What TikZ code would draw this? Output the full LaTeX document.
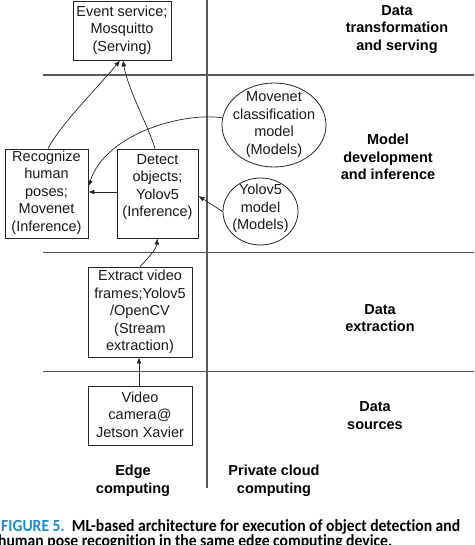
\documentclass[tikz,border=0pt]{standalone}
\usepackage{fontspec}
\setmainfont{Liberation Sans}
\newfontfamily\capfont[Ligatures={NoCommon}]{Carlito}
\usetikzlibrary{arrows.meta,shapes.geometric}
\definecolor{figblue}{RGB}{30,140,205}
\begin{document}
\begin{tikzpicture}[x=1pt,y=-1pt,
  box/.style={draw=black!85,line width=0.9pt,rectangle,inner sep=0pt},
  ell/.style={draw=black!85,line width=0.8pt,ellipse,inner sep=0pt},
  txt/.style={align=center,font=\fontsize{14.5}{17.5}\selectfont,inner sep=0pt,text=black!90},
  lab/.style={align=center,font=\fontsize{14.5}{17.5}\selectfont\bfseries,inner sep=0pt},
  grid/.style={draw=black!65,line width=1.1pt},
  arr/.style={draw=black!85,line width=0.7pt,-{Latex[length=6pt,width=5pt]}},
  captext/.style={anchor=base west,inner sep=0pt,font={\fontsize{17}{17}\capfont\bfseries}}]
\useasboundingbox (0,0) rectangle (474,545);
% grid
\draw[grid] (43,75) -- (474,75);
\draw[grid] (43,252.5) -- (474,252.5);
\draw[grid] (43,371.5) -- (474,371.5);
\draw[grid] (207,0) -- (207,488);
% boxes
\node[box,minimum width=98,minimum height=59] (ev) at (122,30.5) {};
\node[txt] (evt) at (122,30) {Event service;\\Mosquitto\\(Serving)};
\node[box,minimum width=83,minimum height=89] (rec) at (46.5,193.5) {};
\node[txt] (rect) at (46.5,192.7) {Recognize\\human\\poses;\\Movenet\\(Inference)};
\node[box,minimum width=81,minimum height=89] (det) at (157.5,193.5) {};
\node[txt] (dett) at (157.5,187) {Detect\\objects;\\Yolov5\\(Inference)};
\node[box,minimum width=104,minimum height=90] (ext) at (140,312) {};
\node[txt] (extt) at (140,312) {Extract video\\frames;Yolov5\\/OpenCV\\(Stream\\extraction)};
\node[box,minimum width=104,minimum height=59] (vid) at (140,415.5) {};
\node[txt] (vidt) at (140,414.5) {Video\\camera@\\Jetson Xavier};
% ellipses
\node[ell,minimum width=104,minimum height=84] (mov) at (274,125) {};
\node[txt] (movt) at (274,124.5) {Movenet\\classification\\model\\(Models)};
\node[ell,minimum width=75,minimum height=67] (yol) at (260.5,211.5) {};
\node[txt] (yolt) at (260.5,208.5) {Yolov5\\model\\(Models)};
% row/column labels
\node[lab] (l1) at (397,29.5) {Data\\transformation\\and serving};
\node[lab] (l2) at (388,157) {Model\\development\\and inference};
\node[lab] (l3) at (380,318) {Data\\extraction};
\node[lab] (l4) at (375,415.5) {Data\\sources};
\node[lab] (l5) at (133,481) {Edge\\computing};
\node[lab] (l6) at (274,481) {Private cloud\\computing};
% connectors
\draw[arr] ([xshift=-1pt]vid.north) -- ([xshift=-1pt]ext.south);
\draw[arr] (ext.north) .. controls (148,258) and (156,250) .. (det.south);
\draw[arr] ([yshift=1.5pt]det.west) -- ([yshift=1.5pt]rec.east);
\draw[arr] (yol.west) -- ([yshift=-2.5pt]det.east);
\draw[arr] (mov.172) .. controls (180,112) and (105,135) .. ([yshift=7pt]rec.east);
\draw[arr] ([xshift=1.5pt]rec.north) .. controls (60,125) and (100,85) .. ([xshift=-2pt]ev.south);
\draw[arr] ([xshift=-2.5pt]det.north) .. controls (148,125) and (128,90) .. ([xshift=1pt]ev.south);
% caption
\node[captext] (c1) at (1,531.7) {\scalebox{0.92}[1]{\textcolor{figblue}{FIGURE 5.}\hspace{0.45em}ML-based architecture for execution of object detection and}};
\node[captext] (c2) at (-2,546.5) {\scalebox{0.92}[1]{human pose recognition in the same edge computing device.}};
\end{tikzpicture}
\end{document}
